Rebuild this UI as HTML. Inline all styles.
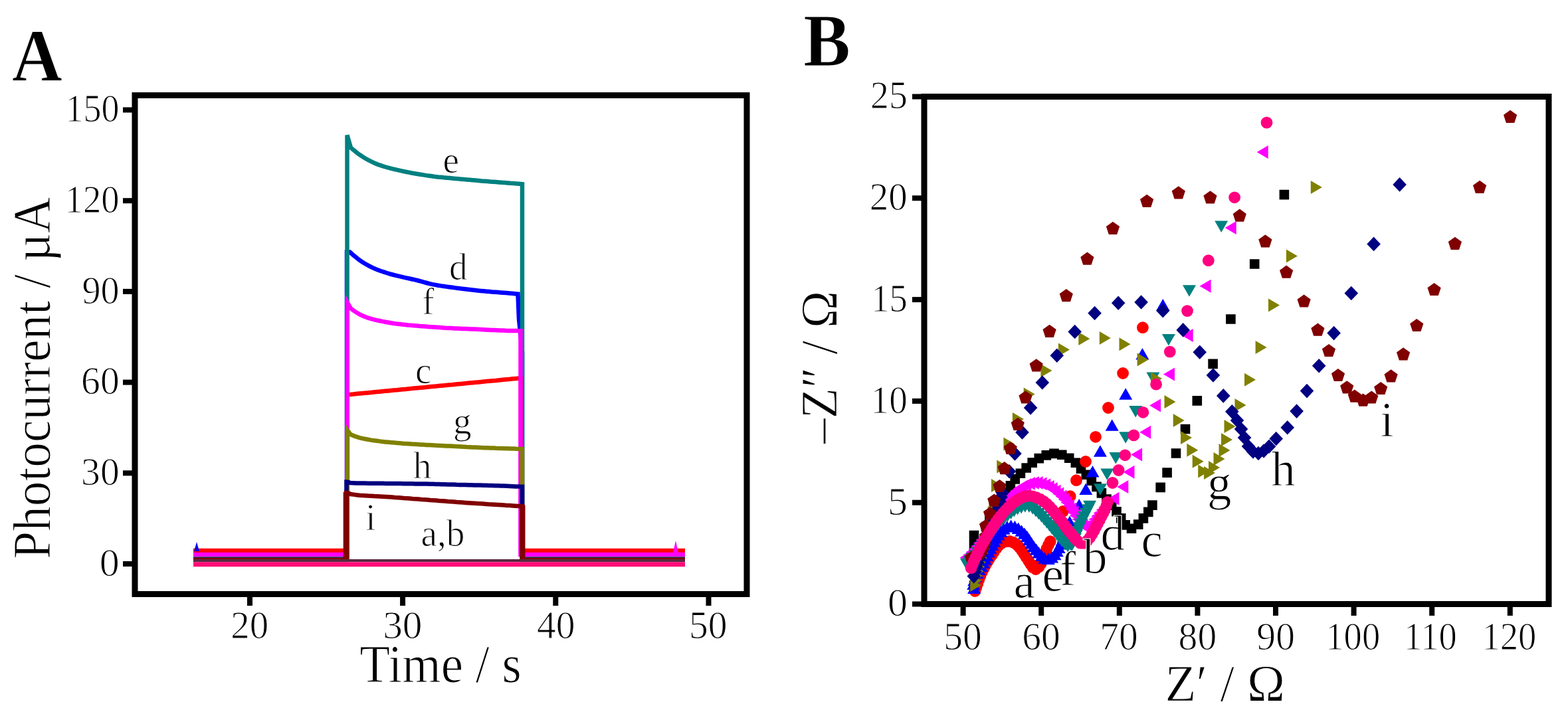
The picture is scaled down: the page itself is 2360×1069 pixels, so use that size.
<!DOCTYPE html>
<html><head><meta charset="utf-8"><title>Figure</title>
<style>html,body{margin:0;padding:0;background:#fff;}body{width:2360px;height:1069px;overflow:hidden;}svg{display:block;filter:blur(0.7px);}.th{stroke:#fff;stroke-width:1.1px;}</style>
</head><body><svg width="2360" height="1069" viewBox="0 0 2360 1069" font-family="'Liberation Serif',serif" fill="#000"><g><path d="M291.0,838.0 L522.0,838.0 L522.0,379.6 L526.7,379.6 L531.0,383.5 L535.3,387.1 L539.5,390.5 L543.8,393.5 L548.1,396.2 L552.4,398.7 L556.7,401.0 L560.9,403.1 L565.2,405.0 L569.5,406.7 L573.8,408.3 L578.1,409.7 L582.3,411.0 L586.6,412.3 L590.9,413.5 L595.2,414.6 L599.5,415.7 L603.7,416.7 L608.0,417.7 L612.3,418.6 L616.6,419.5 L620.9,420.5 L625.1,421.4 L629.4,422.5 L633.7,423.6 L638.0,424.8 L642.3,426.0 L646.5,427.1 L650.8,428.1 L655.1,428.9 L659.4,429.7 L663.6,430.4 L667.9,431.0 L672.2,431.6 L676.5,432.2 L680.8,432.8 L685.0,433.4 L689.3,433.9 L693.6,434.5 L697.9,435.0 L702.2,435.5 L706.4,436.0 L710.7,436.5 L715.0,437.0 L719.3,437.5 L723.6,437.9 L727.8,438.3 L732.1,438.7 L736.4,439.1 L740.7,439.5 L745.0,439.8 L749.2,440.1 L753.5,440.4 L757.8,440.7 L762.1,441.0 L766.4,441.4 L770.6,441.8 L774.9,442.3 L779.2,442.8 L779.5,442.8 L781.0,480.0 L786.0,530.0 L786.0,838.0 L1031.0,838.0" fill="none" stroke="#0000FF" stroke-width="6.5" stroke-linejoin="miter" stroke-linecap="butt" /><path d="M291.0,840.0 L522.5,840.0 L522.5,203.5 L528.0,222.3 L532.4,226.1 L536.7,229.6 L541.1,232.8 L545.5,235.8 L549.9,238.5 L554.2,240.9 L558.6,243.2 L563.0,245.3 L567.4,247.1 L571.7,248.7 L576.1,250.2 L580.5,251.5 L584.8,252.7 L589.2,253.8 L593.6,254.9 L598.0,255.9 L602.3,256.9 L606.7,257.9 L611.1,258.8 L615.5,259.6 L619.8,260.5 L624.2,261.2 L628.6,262.0 L632.9,262.7 L637.3,263.4 L641.7,264.1 L646.1,264.7 L650.4,265.3 L654.8,265.9 L659.2,266.4 L663.6,266.8 L667.9,267.3 L672.3,267.7 L676.7,268.1 L681.1,268.5 L685.4,268.9 L689.8,269.3 L694.2,269.7 L698.5,270.1 L702.9,270.4 L707.3,270.8 L711.7,271.2 L716.0,271.6 L720.4,272.0 L724.8,272.4 L729.2,272.7 L733.5,273.1 L737.9,273.5 L742.3,273.8 L746.6,274.1 L751.0,274.4 L755.4,274.8 L759.8,275.1 L764.1,275.4 L768.5,275.8 L772.9,276.1 L777.3,276.5 L781.6,276.8 L786.0,277.2 L786.0,277.2 L786.0,840.0 L1031.0,840.0" fill="none" stroke="#008080" stroke-width="6.5" stroke-linejoin="miter" stroke-linecap="butt" /><path d="M291.0,829.0 L522.7,829.0 L522.7,594.3 L522.7,594.3 L527.1,593.9 L531.5,593.5 L535.8,593.0 L540.2,592.6 L544.6,592.2 L549.0,591.8 L553.3,591.4 L557.7,590.9 L562.1,590.5 L566.5,590.1 L570.9,589.7 L575.2,589.3 L579.6,588.8 L584.0,588.4 L588.4,588.0 L592.7,587.6 L597.1,587.2 L601.5,586.7 L605.9,586.3 L610.3,585.9 L614.6,585.5 L619.0,585.1 L623.4,584.6 L627.8,584.2 L632.1,583.8 L636.5,583.4 L640.9,583.0 L645.3,582.5 L649.7,582.1 L654.0,581.7 L658.4,581.3 L662.8,580.8 L667.2,580.4 L671.6,580.0 L675.9,579.6 L680.3,579.2 L684.7,578.7 L689.1,578.3 L693.4,577.9 L697.8,577.5 L702.2,577.1 L706.6,576.6 L711.0,576.2 L715.3,575.8 L719.7,575.4 L724.1,575.0 L728.5,574.5 L732.8,574.1 L737.2,573.7 L741.6,573.3 L746.0,572.9 L750.4,572.4 L754.7,572.0 L759.1,571.6 L763.5,571.2 L767.9,570.8 L772.2,570.3 L776.6,569.9 L781.0,569.5 L784.0,569.5 L784.0,829.0 L1031.0,829.0" fill="none" stroke="#FF0000" stroke-width="6.5" stroke-linejoin="miter" stroke-linecap="butt" /><path d="M291.0,835.0 L522.7,835.0 L522.7,455.5 L528.0,464.5 L532.3,467.7 L536.6,470.6 L541.0,473.1 L545.3,475.2 L549.6,477.0 L553.9,478.6 L558.3,479.9 L562.6,481.1 L566.9,482.1 L571.2,483.0 L575.5,483.9 L579.9,484.7 L584.2,485.5 L588.5,486.3 L592.8,487.0 L597.2,487.6 L601.5,488.1 L605.8,488.6 L610.1,489.0 L614.4,489.5 L618.8,489.8 L623.1,490.2 L627.4,490.6 L631.7,491.0 L636.1,491.3 L640.4,491.6 L644.7,491.9 L649.0,492.2 L653.3,492.5 L657.7,492.8 L662.0,493.1 L666.3,493.4 L670.6,493.7 L674.9,493.9 L679.3,494.1 L683.6,494.4 L687.9,494.5 L692.2,494.7 L696.6,494.9 L700.9,495.0 L705.2,495.2 L709.5,495.4 L713.8,495.6 L718.2,495.8 L722.5,496.0 L726.8,496.2 L731.1,496.4 L735.5,496.7 L739.8,496.9 L744.1,497.0 L748.4,497.2 L752.7,497.4 L757.1,497.6 L761.4,497.8 L765.7,497.9 L770.0,498.0 L774.4,498.1 L778.7,498.1 L783.0,498.2 L783.5,498.2 L783.5,835.0 L1031.0,835.0" fill="none" stroke="#FF00FF" stroke-width="6.5" stroke-linejoin="miter" stroke-linecap="butt" /><path d="M291.0,842.0 L523.0,842.0 L523.0,648.0 L528.0,654.4 L532.4,656.1 L536.7,657.7 L541.1,659.1 L545.5,660.1 L549.9,661.0 L554.2,661.8 L558.6,662.6 L563.0,663.2 L567.4,663.8 L571.7,664.4 L576.1,664.9 L580.5,665.4 L584.8,665.8 L589.2,666.2 L593.6,666.6 L598.0,667.0 L602.3,667.3 L606.7,667.7 L611.1,668.0 L615.5,668.3 L619.8,668.6 L624.2,668.8 L628.6,669.1 L632.9,669.4 L637.3,669.6 L641.7,669.9 L646.1,670.1 L650.4,670.3 L654.8,670.6 L659.2,670.8 L663.6,671.0 L667.9,671.2 L672.3,671.4 L676.7,671.6 L681.1,671.8 L685.4,672.1 L689.8,672.3 L694.2,672.5 L698.5,672.7 L702.9,673.0 L707.3,673.2 L711.7,673.4 L716.0,673.6 L720.4,673.8 L724.8,674.0 L729.2,674.2 L733.5,674.3 L737.9,674.5 L742.3,674.6 L746.6,674.8 L751.0,674.9 L755.4,675.0 L759.8,675.2 L764.1,675.3 L768.5,675.5 L772.9,675.6 L777.3,675.8 L781.6,675.9 L786.0,676.1 L786.0,676.1 L786.0,842.0 L1031.0,842.0" fill="none" stroke="#808000" stroke-width="6.5" stroke-linejoin="miter" stroke-linecap="butt" /><path d="M291.0,842.5 L521.5,842.5 L521.5,725.5 L523.0,725.5 L527.4,727.1 L531.9,727.3 L536.3,727.4 L540.8,727.5 L545.2,727.6 L549.6,727.6 L554.1,727.7 L558.5,727.7 L563.0,727.7 L567.4,727.8 L571.8,727.8 L576.3,727.8 L580.7,727.9 L585.2,727.9 L589.6,728.0 L594.1,728.0 L598.5,728.1 L602.9,728.1 L607.4,728.2 L611.8,728.2 L616.3,728.3 L620.7,728.3 L625.1,728.4 L629.6,728.4 L634.0,728.5 L638.5,728.6 L642.9,728.6 L647.3,728.7 L651.8,728.8 L656.2,728.9 L660.7,729.0 L665.1,729.2 L669.5,729.3 L674.0,729.4 L678.4,729.5 L682.9,729.6 L687.3,729.8 L691.7,729.9 L696.2,730.0 L700.6,730.1 L705.1,730.2 L709.5,730.3 L713.9,730.4 L718.4,730.5 L722.8,730.6 L727.3,730.7 L731.7,730.8 L736.2,730.9 L740.6,731.0 L745.0,731.2 L749.5,731.3 L753.9,731.4 L758.4,731.6 L762.8,731.8 L767.2,732.0 L771.7,732.2 L776.1,732.4 L780.6,732.6 L785.0,732.8 L786.0,732.8 L786.0,842.5 L1031.0,842.5" fill="none" stroke="#000080" stroke-width="6.5" stroke-linejoin="miter" stroke-linecap="butt" /><path d="M291.0,843.0 L521.0,843.0 L521.0,742.0 L523.5,742.0 L527.9,744.0 L532.4,744.6 L536.8,745.2 L541.2,745.7 L545.7,746.0 L550.1,746.3 L554.5,746.6 L559.0,746.8 L563.4,747.1 L567.8,747.3 L572.3,747.5 L576.7,747.7 L581.1,748.0 L585.6,748.3 L590.0,748.6 L594.4,749.0 L598.8,749.3 L603.3,749.6 L607.7,750.0 L612.1,750.3 L616.6,750.6 L621.0,751.0 L625.4,751.3 L629.9,751.6 L634.3,752.0 L638.7,752.3 L643.2,752.6 L647.6,753.0 L652.0,753.3 L656.5,753.6 L660.9,754.0 L665.3,754.3 L669.8,754.6 L674.2,755.0 L678.6,755.3 L683.1,755.6 L687.5,756.0 L691.9,756.3 L696.4,756.6 L700.8,756.9 L705.2,757.2 L709.7,757.5 L714.1,757.8 L718.5,758.1 L722.9,758.3 L727.4,758.6 L731.8,758.9 L736.2,759.2 L740.7,759.4 L745.1,759.7 L749.5,760.0 L754.0,760.3 L758.4,760.6 L762.8,760.9 L767.3,761.1 L771.7,761.4 L776.1,761.7 L780.6,762.0 L785.0,762.3 L786.5,762.3 L786.5,843.0 L1031.0,843.0" fill="none" stroke="#800000" stroke-width="6.5" stroke-linejoin="miter" stroke-linecap="butt" /><path d="M520.9,741.0 L520.9,846.0" fill="none" stroke="#800000" stroke-width="8.4" stroke-linejoin="miter" stroke-linecap="butt" /><path d="M786.5,761.0 L786.5,846.0" fill="none" stroke="#800000" stroke-width="8" stroke-linejoin="miter" stroke-linecap="butt" /><path d="M291.0,844.0 L1031.0,844.0" fill="none" stroke="#5a2a40" stroke-width="4" stroke-linejoin="miter" stroke-linecap="butt" /><path d="M291.0,849.8 L1031.0,849.8" fill="none" stroke="#FF0A78" stroke-width="7" stroke-linejoin="miter" stroke-linecap="butt" /><path d="M292,830 L296,816 L300,830 Z" fill="#0000FF"/><path d="M1013,832 L1017,814 L1021,832 Z" fill="#FF00FF"/></g>
<rect x="203" y="143.5" width="921" height="751" fill="none" stroke="#000" stroke-width="9"/>
<line x1="185" y1="849.0" x2="203" y2="849.0" stroke="#000" stroke-width="8"/><text transform="translate(149.79,866.80) scale(1.0000,1)" font-size="60" class="th">0</text><line x1="185" y1="712.3" x2="203" y2="712.3" stroke="#000" stroke-width="8"/><text transform="translate(122.09,730.10) scale(0.9600,1)" font-size="60" class="th">30</text><line x1="185" y1="575.6" x2="203" y2="575.6" stroke="#000" stroke-width="8"/><text transform="translate(122.09,593.40) scale(0.9600,1)" font-size="60" class="th">60</text><line x1="185" y1="438.9" x2="203" y2="438.9" stroke="#000" stroke-width="8"/><text transform="translate(123.54,456.70) scale(0.9350,1)" font-size="60" class="th">90</text><line x1="185" y1="302.2" x2="203" y2="302.2" stroke="#000" stroke-width="8"/><text transform="translate(97.68,320.00) scale(0.9100,1)" font-size="60" class="th">120</text><line x1="185" y1="165.5" x2="203" y2="165.5" stroke="#000" stroke-width="8"/><text transform="translate(98.56,183.30) scale(0.9000,1)" font-size="60" class="th">150</text><line x1="376.0" y1="894" x2="376.0" y2="912" stroke="#000" stroke-width="8"/><text transform="translate(347.33,961.20) scale(0.9500,1)" font-size="60" class="th">20</text><line x1="606.1" y1="894" x2="606.1" y2="912" stroke="#000" stroke-width="8"/><text transform="translate(576.16,961.20) scale(0.9900,1)" font-size="60" class="th">30</text><line x1="836.3" y1="894" x2="836.3" y2="912" stroke="#000" stroke-width="8"/><text transform="translate(808.03,961.20) scale(0.9600,1)" font-size="60" class="th">40</text><line x1="1066.5" y1="894" x2="1066.5" y2="912" stroke="#000" stroke-width="8"/><text transform="translate(1037.07,961.20) scale(0.9600,1)" font-size="60" class="th">50</text>
<text transform="translate(541.24,1026.90) scale(0.9456,1)" font-size="79.4" class="th">Time / s</text>
<text transform="translate(74.80,841.67) rotate(-90) scale(0.9411,1)" font-size="80" class="th">Photocurrent / µA</text>
<text transform="translate(17.98,122.00) scale(0.9371,1)" font-size="112" font-weight="bold" class="th">A</text>
<text transform="translate(666.51,259.50) scale(0.9700,1)" font-size="57" class="th">e</text>
<text transform="translate(676.02,421.00) scale(0.9700,1)" font-size="57" class="th">d</text>
<text transform="translate(635.14,472.50) scale(0.9700,1)" font-size="57" class="th">f</text>
<text transform="translate(625.03,577.30) scale(0.9700,1)" font-size="57" class="th">c</text>
<text transform="translate(682.02,653.00) scale(0.9700,1)" font-size="57" class="th">g</text>
<text transform="translate(621.67,719.50) scale(0.9700,1)" font-size="57" class="th">h</text>
<text transform="translate(550.17,798.30) scale(0.9700,1)" font-size="57" class="th">i</text>
<text transform="translate(633.38,821.90) scale(0.9700,1)" font-size="57" class="th">a,b</text>
<text transform="translate(1209.24,99.00) scale(0.9466,1)" font-size="112" font-weight="bold" class="th">B</text>
<rect x="1391" y="145.5" width="940" height="764" fill="none" stroke="#000" stroke-width="9"/>
<line x1="1373" y1="909.5" x2="1391" y2="909.5" stroke="#000" stroke-width="8"/><text transform="translate(1335.99,927.30) scale(1.0000,1)" font-size="60" class="th">0</text><line x1="1373" y1="756.7" x2="1391" y2="756.7" stroke="#000" stroke-width="8"/><text transform="translate(1336.04,774.50) scale(1.0000,1)" font-size="60" class="th">5</text><line x1="1373" y1="603.9" x2="1391" y2="603.9" stroke="#000" stroke-width="8"/><text transform="translate(1310.60,621.70) scale(0.9200,1)" font-size="60" class="th">10</text><line x1="1373" y1="451.1" x2="1391" y2="451.1" stroke="#000" stroke-width="8"/><text transform="translate(1311.23,468.90) scale(0.9100,1)" font-size="60" class="th">15</text><line x1="1373" y1="298.3" x2="1391" y2="298.3" stroke="#000" stroke-width="8"/><text transform="translate(1308.87,316.10) scale(0.9500,1)" font-size="60" class="th">20</text><line x1="1373" y1="145.5" x2="1391" y2="145.5" stroke="#000" stroke-width="8"/><text transform="translate(1310.08,163.30) scale(0.9300,1)" font-size="60" class="th">25</text><line x1="1449.6" y1="909" x2="1449.6" y2="927" stroke="#000" stroke-width="8"/><text transform="translate(1420.22,977.60) scale(0.9600,1)" font-size="60" class="th">50</text><line x1="1567.2" y1="909" x2="1567.2" y2="927" stroke="#000" stroke-width="8"/><text transform="translate(1538.26,977.60) scale(0.9600,1)" font-size="60" class="th">60</text><line x1="1684.8" y1="909" x2="1684.8" y2="927" stroke="#000" stroke-width="8"/><text transform="translate(1655.20,977.60) scale(0.9600,1)" font-size="60" class="th">70</text><line x1="1802.4" y1="909" x2="1802.4" y2="927" stroke="#000" stroke-width="8"/><text transform="translate(1773.60,977.60) scale(0.9600,1)" font-size="60" class="th">80</text><line x1="1920.0" y1="909" x2="1920.0" y2="927" stroke="#000" stroke-width="8"/><text transform="translate(1891.37,977.60) scale(0.9600,1)" font-size="60" class="th">90</text><line x1="2037.6" y1="909" x2="2037.6" y2="927" stroke="#000" stroke-width="8"/><text transform="translate(1995.29,977.60) scale(0.9100,1)" font-size="60" class="th">100</text><line x1="2155.2" y1="909" x2="2155.2" y2="927" stroke="#000" stroke-width="8"/><text transform="translate(2112.89,977.60) scale(0.9100,1)" font-size="60" class="th">110</text><line x1="2272.8" y1="909" x2="2272.8" y2="927" stroke="#000" stroke-width="8"/><text transform="translate(2230.49,977.60) scale(0.9100,1)" font-size="60" class="th">120</text>
<text transform="translate(1753.53,1054.50) scale(0.9880,1)" font-size="77.7" class="th">Z′ / Ω</text>
<text transform="translate(1259.40,667.98) rotate(-90) scale(0.9620,1)" font-size="78.5" class="th">–Z″ / Ω</text>
<g><path fill="#000000" d="M1458.7,817.2h14.6v14.6h-14.6ZM1458.7,807.7h14.6v14.6h-14.6ZM1458.7,798.7h14.6v14.6h-14.6ZM1476.7,785.7h14.6v14.6h-14.6ZM1482.1,775.0h14.6v14.6h-14.6ZM1487.7,764.4h14.6v14.6h-14.6ZM1494.0,754.2h14.6v14.6h-14.6ZM1500.7,744.2h14.6v14.6h-14.6ZM1507.2,734.1h14.6v14.6h-14.6ZM1513.6,724.0h14.6v14.6h-14.6ZM1520.4,714.1h14.6v14.6h-14.6ZM1528.6,705.4h14.6v14.6h-14.6ZM1537.4,697.2h14.6v14.6h-14.6ZM1546.4,689.3h14.6v14.6h-14.6ZM1556.5,682.8h14.6v14.6h-14.6ZM1567.5,678.1h14.6v14.6h-14.6ZM1579.2,675.6h14.6v14.6h-14.6ZM1591.0,677.5h14.6v14.6h-14.6ZM1601.9,682.4h14.6v14.6h-14.6ZM1611.6,689.5h14.6v14.6h-14.6ZM1619.7,698.4h14.6v14.6h-14.6ZM1627.5,707.4h14.6v14.6h-14.6ZM1635.5,716.4h14.6v14.6h-14.6ZM1643.2,725.6h14.6v14.6h-14.6ZM1650.6,735.1h14.6v14.6h-14.6ZM1658.2,744.3h14.6v14.6h-14.6ZM1665.9,753.5h14.6v14.6h-14.6ZM1673.2,763.0h14.6v14.6h-14.6ZM1679.9,773.0h14.6v14.6h-14.6ZM1686.4,783.1h14.6v14.6h-14.6ZM1695.7,788.5h14.6v14.6h-14.6ZM1705.9,782.3h14.6v14.6h-14.6ZM1713.6,773.1h14.6v14.6h-14.6ZM1721.0,763.6h14.6v14.6h-14.6ZM1727.1,753.3h14.6v14.6h-14.6ZM1739.4,726.6h14.6v14.6h-14.6ZM1749.3,704.3h14.6v14.6h-14.6ZM1762.7,675.2h14.6v14.6h-14.6ZM1776.7,638.7h14.6v14.6h-14.6ZM1794.5,596.1h14.6v14.6h-14.6ZM1818.3,540.6h14.6v14.6h-14.6ZM1845.1,473.2h14.6v14.6h-14.6ZM1880.9,390.2h14.6v14.6h-14.6ZM1925.6,285.8h14.6v14.6h-14.6Z"/><path fill="#FF0000" d="M1458.6,890.0a8.9,8.9 0 1,0 17.8,0a8.9,8.9 0 1,0 -17.8,0ZM1460.5,884.3a8.9,8.9 0 1,0 17.8,0a8.9,8.9 0 1,0 -17.8,0ZM1462.5,878.6a8.9,8.9 0 1,0 17.8,0a8.9,8.9 0 1,0 -17.8,0ZM1464.4,873.0a8.9,8.9 0 1,0 17.8,0a8.9,8.9 0 1,0 -17.8,0ZM1466.5,867.4a8.9,8.9 0 1,0 17.8,0a8.9,8.9 0 1,0 -17.8,0ZM1468.9,861.8a8.9,8.9 0 1,0 17.8,0a8.9,8.9 0 1,0 -17.8,0ZM1471.5,856.5a8.9,8.9 0 1,0 17.8,0a8.9,8.9 0 1,0 -17.8,0ZM1474.4,851.1a8.9,8.9 0 1,0 17.8,0a8.9,8.9 0 1,0 -17.8,0ZM1477.3,845.9a8.9,8.9 0 1,0 17.8,0a8.9,8.9 0 1,0 -17.8,0ZM1480.5,840.8a8.9,8.9 0 1,0 17.8,0a8.9,8.9 0 1,0 -17.8,0ZM1483.9,835.9a8.9,8.9 0 1,0 17.8,0a8.9,8.9 0 1,0 -17.8,0ZM1487.2,830.9a8.9,8.9 0 1,0 17.8,0a8.9,8.9 0 1,0 -17.8,0ZM1490.6,825.9a8.9,8.9 0 1,0 17.8,0a8.9,8.9 0 1,0 -17.8,0ZM1494.3,821.3a8.9,8.9 0 1,0 17.8,0a8.9,8.9 0 1,0 -17.8,0ZM1499.1,817.6a8.9,8.9 0 1,0 17.8,0a8.9,8.9 0 1,0 -17.8,0ZM1504.6,815.4a8.9,8.9 0 1,0 17.8,0a8.9,8.9 0 1,0 -17.8,0ZM1510.6,815.0a8.9,8.9 0 1,0 17.8,0a8.9,8.9 0 1,0 -17.8,0ZM1516.3,816.7a8.9,8.9 0 1,0 17.8,0a8.9,8.9 0 1,0 -17.8,0ZM1521.3,819.9a8.9,8.9 0 1,0 17.8,0a8.9,8.9 0 1,0 -17.8,0ZM1525.5,824.2a8.9,8.9 0 1,0 17.8,0a8.9,8.9 0 1,0 -17.8,0ZM1529.1,829.0a8.9,8.9 0 1,0 17.8,0a8.9,8.9 0 1,0 -17.8,0ZM1532.4,834.0a8.9,8.9 0 1,0 17.8,0a8.9,8.9 0 1,0 -17.8,0ZM1535.6,839.1a8.9,8.9 0 1,0 17.8,0a8.9,8.9 0 1,0 -17.8,0ZM1538.9,844.1a8.9,8.9 0 1,0 17.8,0a8.9,8.9 0 1,0 -17.8,0ZM1542.1,849.1a8.9,8.9 0 1,0 17.8,0a8.9,8.9 0 1,0 -17.8,0ZM1545.5,854.1a8.9,8.9 0 1,0 17.8,0a8.9,8.9 0 1,0 -17.8,0ZM1550.0,857.0a8.9,8.9 0 1,0 17.8,0a8.9,8.9 0 1,0 -17.8,0ZM1554.8,853.5a8.9,8.9 0 1,0 17.8,0a8.9,8.9 0 1,0 -17.8,0ZM1557.9,848.4a8.9,8.9 0 1,0 17.8,0a8.9,8.9 0 1,0 -17.8,0ZM1560.3,842.8a8.9,8.9 0 1,0 17.8,0a8.9,8.9 0 1,0 -17.8,0ZM1562.3,837.2a8.9,8.9 0 1,0 17.8,0a8.9,8.9 0 1,0 -17.8,0ZM1564.4,831.6a8.9,8.9 0 1,0 17.8,0a8.9,8.9 0 1,0 -17.8,0ZM1566.6,826.0a8.9,8.9 0 1,0 17.8,0a8.9,8.9 0 1,0 -17.8,0ZM1569.1,820.5a8.9,8.9 0 1,0 17.8,0a8.9,8.9 0 1,0 -17.8,0ZM1571.8,815.2a8.9,8.9 0 1,0 17.8,0a8.9,8.9 0 1,0 -17.8,0ZM1582.1,790.0a8.9,8.9 0 1,0 17.8,0a8.9,8.9 0 1,0 -17.8,0ZM1591.1,770.0a8.9,8.9 0 1,0 17.8,0a8.9,8.9 0 1,0 -17.8,0ZM1601.8,747.2a8.9,8.9 0 1,0 17.8,0a8.9,8.9 0 1,0 -17.8,0ZM1611.1,723.2a8.9,8.9 0 1,0 17.8,0a8.9,8.9 0 1,0 -17.8,0ZM1625.1,695.0a8.9,8.9 0 1,0 17.8,0a8.9,8.9 0 1,0 -17.8,0ZM1640.1,657.8a8.9,8.9 0 1,0 17.8,0a8.9,8.9 0 1,0 -17.8,0ZM1659.1,614.0a8.9,8.9 0 1,0 17.8,0a8.9,8.9 0 1,0 -17.8,0ZM1681.2,562.0a8.9,8.9 0 1,0 17.8,0a8.9,8.9 0 1,0 -17.8,0ZM1711.0,493.2a8.9,8.9 0 1,0 17.8,0a8.9,8.9 0 1,0 -17.8,0Z"/><path fill="#0000FF" d="M1466.0,876.5L1476.0,894.0L1456.0,894.0ZM1465.2,870.6L1475.2,888.1L1455.2,888.1ZM1466.2,864.7L1476.2,882.2L1456.2,882.2ZM1468.1,859.0L1478.1,876.5L1458.1,876.5ZM1470.5,853.5L1480.5,871.0L1460.5,871.0ZM1473.6,848.4L1483.6,865.9L1463.6,865.9ZM1477.1,843.5L1487.1,861.0L1467.1,861.0ZM1480.1,838.3L1490.1,855.8L1470.1,855.8ZM1482.8,832.9L1492.8,850.4L1472.8,850.4ZM1485.4,827.5L1495.4,845.0L1475.4,845.0ZM1488.0,822.1L1498.0,839.6L1478.0,839.6ZM1490.6,816.7L1500.6,834.2L1480.6,834.2ZM1493.4,811.4L1503.4,828.9L1483.4,828.9ZM1496.3,806.2L1506.3,823.7L1486.3,823.7ZM1499.3,801.0L1509.3,818.5L1489.3,818.5ZM1502.6,795.9L1512.6,813.4L1492.6,813.4ZM1506.3,791.2L1516.3,808.7L1496.3,808.7ZM1510.7,787.2L1520.7,804.7L1500.7,804.7ZM1515.8,784.0L1525.8,801.5L1505.8,801.5ZM1521.6,782.6L1531.6,800.1L1511.6,800.1ZM1527.4,783.7L1537.4,801.2L1517.4,801.2ZM1532.7,786.5L1542.7,804.0L1522.7,804.0ZM1537.5,790.2L1547.5,807.7L1527.5,807.7ZM1541.9,794.3L1551.9,811.8L1531.9,811.8ZM1545.8,798.8L1555.8,816.3L1535.8,816.3ZM1549.2,803.7L1559.2,821.2L1539.2,821.2ZM1552.5,808.7L1562.5,826.2L1542.5,826.2ZM1555.9,813.7L1565.9,831.2L1545.9,831.2ZM1559.7,818.3L1569.7,835.8L1549.7,835.8ZM1563.5,822.9L1573.5,840.4L1553.5,840.4ZM1567.6,827.4L1577.6,844.9L1557.6,844.9ZM1572.2,831.2L1582.2,848.7L1562.2,848.7ZM1577.9,832.6L1587.9,850.1L1567.9,850.1ZM1583.2,829.9L1593.2,847.4L1573.2,847.4ZM1587.5,825.7L1597.5,843.2L1577.5,843.2ZM1590.8,820.7L1600.8,838.2L1580.8,838.2ZM1593.6,815.4L1603.6,832.9L1583.6,832.9ZM1596.3,810.1L1606.3,827.6L1586.3,827.6ZM1598.6,804.6L1608.6,822.1L1588.6,822.1ZM1600.8,799.0L1610.8,816.5L1590.8,816.5ZM1603.0,793.4L1613.0,810.9L1593.0,810.9ZM1605.4,787.9L1615.4,805.4L1595.4,805.4ZM1607.7,782.3L1617.7,799.8L1597.7,799.8ZM1610.0,776.8L1620.0,794.3L1600.0,794.3ZM1624.2,751.1L1634.2,768.6L1614.2,768.6ZM1634.3,727.5L1644.3,745.0L1624.3,745.0ZM1644.5,701.0L1654.5,718.5L1634.5,718.5ZM1655.9,670.2L1665.9,687.7L1645.9,687.7ZM1673.7,631.3L1683.7,648.8L1663.7,648.8ZM1694.2,584.2L1704.2,601.7L1684.2,601.7ZM1719.4,523.9L1729.4,541.4L1709.4,541.4ZM1750.3,450.0L1760.3,467.5L1740.3,467.5Z"/><path fill="#FF00FF" d="M1444.6,839.6L1461.6,829.6L1461.6,849.6ZM1449.1,835.7L1466.1,825.7L1466.1,845.7ZM1453.5,831.6L1470.5,821.6L1470.5,841.6ZM1457.5,827.1L1474.5,817.1L1474.5,837.1ZM1461.3,822.4L1478.3,812.4L1478.3,832.4ZM1464.9,817.7L1481.9,807.7L1481.9,827.7ZM1468.6,812.9L1485.6,802.9L1485.6,822.9ZM1472.2,808.1L1489.2,798.1L1489.2,818.1ZM1475.7,803.2L1492.7,793.2L1492.7,813.2ZM1479.2,798.4L1496.2,788.4L1496.2,808.4ZM1482.6,793.5L1499.6,783.5L1499.6,803.5ZM1486.1,788.5L1503.1,778.5L1503.1,798.5ZM1489.3,783.5L1506.3,773.5L1506.3,793.5ZM1492.4,778.3L1509.4,768.3L1509.4,788.3ZM1495.3,773.1L1512.3,763.1L1512.3,783.1ZM1498.3,767.9L1515.3,757.9L1515.3,777.9ZM1501.4,762.8L1518.4,752.8L1518.4,772.8ZM1504.6,757.7L1521.6,747.7L1521.6,767.7ZM1507.8,752.6L1524.8,742.6L1524.8,762.6ZM1511.4,747.8L1528.4,737.8L1528.4,757.8ZM1515.5,743.4L1532.5,733.4L1532.5,753.4ZM1519.9,739.4L1536.9,729.4L1536.9,749.4ZM1524.7,735.7L1541.7,725.7L1541.7,745.7ZM1529.8,732.6L1546.8,722.6L1546.8,742.6ZM1535.2,730.0L1552.2,720.0L1552.2,740.0ZM1540.9,728.0L1557.9,718.0L1557.9,738.0ZM1546.8,726.9L1563.8,716.9L1563.8,736.9ZM1552.7,727.0L1569.7,717.0L1569.7,737.0ZM1558.6,728.2L1575.6,718.2L1575.6,738.2ZM1564.3,730.2L1581.3,720.2L1581.3,740.2ZM1569.6,732.9L1586.6,722.9L1586.6,742.9ZM1574.7,736.1L1591.7,726.1L1591.7,746.1ZM1579.6,739.6L1596.6,729.6L1596.6,749.6ZM1584.2,743.4L1601.2,733.4L1601.2,753.4ZM1588.6,747.5L1605.6,737.5L1605.6,757.5ZM1592.7,751.9L1609.7,741.9L1609.7,761.9ZM1596.4,756.6L1613.4,746.6L1613.4,766.6ZM1599.9,761.5L1616.9,751.5L1616.9,771.5ZM1603.3,766.4L1620.3,756.4L1620.3,776.4ZM1606.6,771.4L1623.6,761.4L1623.6,781.4ZM1609.8,776.5L1626.8,766.5L1626.8,786.5ZM1613.2,781.5L1630.2,771.5L1630.2,791.5ZM1616.7,786.3L1633.7,776.3L1633.7,796.3ZM1620.4,791.1L1637.4,781.1L1637.4,801.1ZM1625.4,794.0L1642.4,784.0L1642.4,804.0ZM1630.4,791.0L1647.4,781.0L1647.4,801.0ZM1634.5,786.6L1651.5,776.6L1651.5,796.6ZM1638.5,782.1L1655.5,772.1L1655.5,792.1ZM1642.1,777.3L1659.1,767.3L1659.1,787.3ZM1645.6,772.4L1662.6,762.4L1662.6,782.4ZM1649.6,767.9L1666.6,757.9L1666.6,777.9ZM1653.6,763.5L1670.6,753.5L1670.6,773.5ZM1667.5,750.8L1684.5,740.8L1684.5,760.8ZM1681.3,733.1L1698.3,723.1L1698.3,743.1ZM1690.5,710.8L1707.5,700.8L1707.5,720.8ZM1702.1,684.4L1719.1,674.4L1719.1,694.4ZM1715.2,650.7L1732.2,640.7L1732.2,660.7ZM1730.1,610.5L1747.1,600.5L1747.1,620.5ZM1751.0,563.5L1768.0,553.5L1768.0,573.5ZM1778.7,505.1L1795.7,495.1L1795.7,515.1ZM1805.6,430.7L1822.6,420.7L1822.6,440.7ZM1843.7,342.9L1860.7,332.9L1860.7,352.9ZM1891.7,228.9L1908.7,218.9L1908.7,238.9Z"/><path fill="#008080" d="M1445.0,841.0L1465.0,841.0L1455.0,858.5ZM1449.3,836.8L1469.3,836.8L1459.3,854.3ZM1453.5,832.6L1473.5,832.6L1463.5,850.1ZM1457.7,828.2L1477.7,828.2L1467.7,845.7ZM1461.7,823.7L1481.7,823.7L1471.7,841.2ZM1465.5,819.2L1485.5,819.2L1475.5,836.7ZM1469.2,814.4L1489.2,814.4L1479.2,831.9ZM1472.5,809.4L1492.5,809.4L1482.5,826.9ZM1475.7,804.3L1495.7,804.3L1485.7,821.8ZM1479.1,799.3L1499.1,799.3L1489.1,816.8ZM1482.5,794.4L1502.5,794.4L1492.5,811.9ZM1485.9,789.5L1505.9,789.5L1495.9,807.0ZM1489.4,784.6L1509.4,784.6L1499.4,802.1ZM1493.2,780.0L1513.2,780.0L1503.2,797.5ZM1497.4,775.7L1517.4,775.7L1507.4,793.2ZM1501.9,771.7L1521.9,771.7L1511.9,789.2ZM1506.6,768.0L1526.6,768.0L1516.6,785.5ZM1511.5,764.5L1531.5,764.5L1521.5,782.0ZM1516.4,761.1L1536.4,761.1L1526.4,778.6ZM1521.6,758.1L1541.6,758.1L1531.6,775.6ZM1527.2,755.9L1547.2,755.9L1537.2,773.4ZM1532.9,754.3L1552.9,754.3L1542.9,771.8ZM1538.9,754.4L1558.9,754.4L1548.9,771.9ZM1544.2,757.2L1564.2,757.2L1554.2,774.7ZM1548.8,761.0L1568.8,761.0L1558.8,778.5ZM1553.3,765.0L1573.3,765.0L1563.3,782.5ZM1557.5,769.3L1577.5,769.3L1567.5,786.8ZM1561.5,773.7L1581.5,773.7L1571.5,791.2ZM1565.5,778.2L1585.5,778.2L1575.5,795.7ZM1569.4,782.8L1589.4,782.8L1579.4,800.3ZM1573.2,787.5L1593.2,787.5L1583.2,805.0ZM1577.0,792.1L1597.0,792.1L1587.0,809.6ZM1580.8,796.7L1600.8,796.7L1590.8,814.2ZM1584.5,801.5L1604.5,801.5L1594.5,819.0ZM1588.2,806.2L1608.2,806.2L1598.2,823.7ZM1592.5,810.3L1612.5,810.3L1602.5,827.8ZM1597.2,814.0L1617.2,814.0L1607.2,831.5ZM1602.6,813.8L1622.6,813.8L1612.6,831.3ZM1605.5,808.5L1625.5,808.5L1615.5,826.0ZM1607.9,803.0L1627.9,803.0L1617.9,820.5ZM1610.0,797.4L1630.0,797.4L1620.0,814.9ZM1612.1,791.8L1632.1,791.8L1622.1,809.3ZM1614.4,786.3L1634.4,786.3L1624.4,803.8ZM1616.9,780.8L1636.9,780.8L1626.9,798.3ZM1619.4,775.3L1639.4,775.3L1629.4,792.8ZM1622.0,769.9L1642.0,769.9L1632.0,787.4ZM1624.7,764.5L1644.7,764.5L1634.7,782.0ZM1627.4,759.2L1647.4,759.2L1637.4,776.7ZM1630.1,753.8L1650.1,753.8L1640.1,771.3ZM1646.0,728.3L1666.0,728.3L1656.0,745.8ZM1656.3,705.5L1676.3,705.5L1666.3,723.0ZM1669.3,681.1L1689.3,681.1L1679.3,698.6ZM1684.2,650.2L1704.2,650.2L1694.2,667.7ZM1699.2,610.9L1719.2,610.9L1709.2,628.4ZM1725.4,560.4L1745.4,560.4L1735.4,577.9ZM1748.9,502.9L1768.9,502.9L1758.9,520.4ZM1780.0,429.3L1800.0,429.3L1790.0,446.8ZM1828.2,332.6L1848.2,332.6L1838.2,350.1Z"/><path fill="#808000" d="M1477.2,881.0L1460.2,871.0L1460.2,891.0ZM1478.0,874.0L1461.0,864.0L1461.0,884.0ZM1479.2,867.1L1462.2,857.1L1462.2,877.1ZM1480.8,860.3L1463.8,850.3L1463.8,870.3ZM1482.5,853.6L1465.5,843.6L1465.5,863.6ZM1484.3,846.8L1467.3,836.8L1467.3,856.8ZM1486.1,840.0L1469.1,830.0L1469.1,850.0ZM1488.0,833.3L1471.0,823.3L1471.0,843.3ZM1489.9,826.5L1472.9,816.5L1472.9,836.5ZM1491.7,819.8L1474.7,809.8L1474.7,829.8ZM1493.6,813.0L1476.6,803.0L1476.6,823.0ZM1495.4,806.3L1478.4,796.3L1478.4,816.3ZM1497.2,799.5L1480.2,789.5L1480.2,809.5ZM1498.9,792.7L1481.9,782.7L1481.9,802.7ZM1500.6,785.9L1483.6,775.9L1483.6,795.9ZM1502.2,779.1L1485.2,769.1L1485.2,789.1ZM1503.7,772.3L1486.7,762.3L1486.7,782.3ZM1505.2,765.4L1488.2,755.4L1488.2,775.4ZM1506.7,758.6L1489.7,748.6L1489.7,768.6ZM1509.0,731.0L1492.0,721.0L1492.0,741.0ZM1517.3,702.5L1500.3,692.5L1500.3,712.5ZM1527.4,668.5L1510.4,658.5L1510.4,678.5ZM1540.9,631.0L1523.9,621.0L1523.9,641.0ZM1557.7,593.5L1540.7,583.5L1540.7,603.5ZM1583.4,558.0L1566.4,548.0L1566.4,568.0ZM1609.9,526.4L1592.9,516.4L1592.9,536.4ZM1640.3,510.0L1623.3,500.0L1623.3,520.0ZM1671.8,508.9L1654.8,498.9L1654.8,518.9ZM1701.5,518.2L1684.5,508.2L1684.5,528.2ZM1728.6,541.5L1711.6,531.5L1711.6,551.5ZM1749.0,570.0L1732.0,560.0L1732.0,580.0ZM1769.5,605.0L1752.5,595.0L1752.5,615.0ZM1782.7,633.0L1765.7,623.0L1765.7,643.0ZM1794.0,659.1L1777.0,649.1L1777.0,669.1ZM1803.3,677.8L1786.3,667.8L1786.3,687.8ZM1811.7,694.7L1794.7,684.7L1794.7,704.7ZM1820.2,709.6L1803.2,699.6L1803.2,719.6ZM1829.0,712.0L1812.0,702.0L1812.0,722.0ZM1836.0,704.0L1819.0,694.0L1819.0,714.0ZM1843.5,691.0L1826.5,681.0L1826.5,701.0ZM1851.5,678.0L1834.5,668.0L1834.5,688.0ZM1855.0,662.0L1838.0,652.0L1838.0,672.0ZM1859.5,642.0L1842.5,632.0L1842.5,652.0ZM1875.5,610.0L1858.5,600.0L1858.5,620.0ZM1890.0,571.7L1873.0,561.7L1873.0,581.7ZM1906.6,523.1L1889.6,513.1L1889.6,533.1ZM1926.0,459.5L1909.0,449.5L1909.0,469.5ZM1952.9,385.4L1935.9,375.4L1935.9,395.4ZM1989.8,282.1L1972.8,272.1L1972.8,292.1Z"/><path fill="#000080" d="M1465.8,856.8L1476.1,867.6L1465.8,878.4L1455.5,867.6ZM1467.5,850.0L1477.8,860.8L1467.5,871.6L1457.2,860.8ZM1469.4,843.3L1479.7,854.1L1469.4,864.9L1459.1,854.1ZM1471.5,836.6L1481.8,847.4L1471.5,858.2L1461.2,847.4ZM1473.8,830.0L1484.1,840.8L1473.8,851.6L1463.5,840.8ZM1476.2,823.4L1486.5,834.2L1476.2,845.0L1465.9,834.2ZM1478.6,816.8L1488.9,827.6L1478.6,838.4L1468.3,827.6ZM1480.9,810.2L1491.2,821.0L1480.9,831.8L1470.6,821.0ZM1483.3,803.7L1493.6,814.5L1483.3,825.3L1473.0,814.5ZM1485.8,797.1L1496.1,807.9L1485.8,818.7L1475.5,807.9ZM1488.4,790.6L1498.7,801.4L1488.4,812.2L1478.1,801.4ZM1491.0,784.1L1501.3,794.9L1491.0,805.7L1480.7,794.9ZM1493.5,777.6L1503.8,788.4L1493.5,799.2L1483.2,788.4ZM1495.8,771.0L1506.1,781.8L1495.8,792.6L1485.5,781.8ZM1498.1,764.3L1508.4,775.1L1498.1,785.9L1487.8,775.1ZM1500.2,757.7L1510.5,768.5L1500.2,779.3L1489.9,768.5ZM1502.4,751.0L1512.7,761.8L1502.4,772.6L1492.1,761.8ZM1504.5,744.3L1514.8,755.1L1504.5,765.9L1494.2,755.1ZM1506.5,737.6L1516.8,748.4L1506.5,759.2L1496.2,748.4ZM1508.6,730.9L1518.9,741.7L1508.6,752.5L1498.3,741.7ZM1519.1,699.0L1529.4,709.8L1519.1,720.6L1508.8,709.8ZM1527.5,672.1L1537.8,682.9L1527.5,693.7L1517.2,682.9ZM1538.5,640.1L1548.8,650.9L1538.5,661.7L1528.2,650.9ZM1551.1,603.1L1561.4,613.9L1551.1,624.7L1540.8,613.9ZM1568.8,565.2L1579.1,576.0L1568.8,586.8L1558.5,576.0ZM1590.8,524.5L1601.1,535.3L1590.8,546.1L1580.5,535.3ZM1617.7,488.7L1628.0,499.5L1617.7,510.3L1607.4,499.5ZM1647.6,460.7L1657.9,471.5L1647.6,482.3L1637.3,471.5ZM1683.2,445.5L1693.5,456.3L1683.2,467.1L1672.9,456.3ZM1717.6,444.2L1727.9,455.0L1717.6,465.8L1707.3,455.0ZM1750.3,456.9L1760.6,467.7L1750.3,478.5L1740.0,467.7ZM1780.7,486.1L1791.0,496.9L1780.7,507.7L1770.4,496.9ZM1805.7,519.5L1816.0,530.3L1805.7,541.1L1795.4,530.3ZM1825.9,554.2L1836.2,565.0L1825.9,575.8L1815.6,565.0ZM1841.3,585.1L1851.6,595.9L1841.3,606.7L1831.0,595.9ZM1854.3,609.0L1864.6,619.8L1854.3,630.6L1844.0,619.8ZM1862.0,622.2L1872.3,633.0L1862.0,643.8L1851.7,633.0ZM1868.0,635.2L1878.3,646.0L1868.0,656.8L1857.7,646.0ZM1873.0,648.2L1883.3,659.0L1873.0,669.8L1862.7,659.0ZM1879.0,661.2L1889.3,672.0L1879.0,682.8L1868.7,672.0ZM1886.0,669.2L1896.3,680.0L1886.0,690.8L1875.7,680.0ZM1894.0,671.7L1904.3,682.5L1894.0,693.3L1883.7,682.5ZM1902.0,668.2L1912.3,679.0L1902.0,689.8L1891.7,679.0ZM1910.1,661.4L1920.4,672.2L1910.1,683.0L1899.8,672.2ZM1920.7,649.7L1931.0,660.5L1920.7,671.3L1910.4,660.5ZM1937.7,632.9L1948.0,643.7L1937.7,654.5L1927.4,643.7ZM1951.6,608.3L1961.9,619.1L1951.6,629.9L1941.3,619.1ZM1967.0,577.8L1977.3,588.6L1967.0,599.4L1956.7,588.6ZM1985.2,539.9L1995.5,550.7L1985.2,561.5L1974.9,550.7ZM2007.6,490.8L2017.9,501.6L2007.6,512.4L1997.3,501.6ZM2033.8,430.7L2044.1,441.5L2033.8,452.3L2023.5,441.5ZM2067.6,356.6L2077.9,367.4L2067.6,378.2L2057.3,367.4ZM2106.6,267.1L2116.9,277.9L2106.6,288.7L2096.3,277.9Z"/><path fill="#800000" d="M1462.0,829.4L1472.1,836.7L1468.2,848.6L1455.8,848.6L1451.9,836.7ZM1468.5,826.8L1478.6,834.1L1474.7,846.0L1462.3,846.0L1458.4,834.1ZM1474.3,823.0L1484.4,830.4L1480.6,842.2L1468.1,842.2L1464.3,830.4ZM1478.2,817.2L1488.2,824.5L1484.4,836.4L1471.9,836.4L1468.1,824.5ZM1480.9,810.8L1491.0,818.1L1487.1,829.9L1474.6,829.9L1470.8,818.1ZM1482.7,804.0L1492.8,811.3L1488.9,823.2L1476.4,823.2L1472.6,811.3ZM1483.9,797.1L1493.9,804.4L1490.1,816.3L1477.6,816.3L1473.8,804.4ZM1484.0,781.5L1494.1,788.8L1490.2,800.7L1477.8,800.7L1473.9,788.8ZM1490.1,763.0L1500.2,770.3L1496.3,782.2L1483.9,782.2L1480.0,770.3ZM1496.3,743.5L1506.4,750.8L1502.5,762.7L1490.1,762.7L1486.2,750.8ZM1504.5,721.9L1514.6,729.2L1510.7,741.1L1498.3,741.1L1494.4,729.2ZM1511.7,695.1L1521.8,702.4L1517.9,714.3L1505.5,714.3L1501.6,702.4ZM1520.8,664.9L1530.9,672.2L1527.0,684.1L1514.6,684.1L1510.7,672.2ZM1531.8,628.7L1541.9,636.0L1538.0,647.9L1525.6,647.9L1521.7,636.0ZM1543.5,588.3L1553.6,595.6L1549.7,607.5L1537.3,607.5L1533.4,595.6ZM1559.7,540.2L1569.8,547.5L1565.9,559.4L1553.5,559.4L1549.6,547.5ZM1579.6,488.7L1589.7,496.0L1585.8,507.9L1573.4,507.9L1569.5,496.0ZM1604.8,435.0L1614.9,442.3L1611.0,454.2L1598.6,454.2L1594.7,442.3ZM1636.4,379.6L1646.5,386.9L1642.6,398.8L1630.2,398.8L1626.3,386.9ZM1675.0,333.7L1685.1,341.0L1681.2,352.9L1668.8,352.9L1664.9,341.0ZM1726.1,292.8L1736.2,300.1L1732.3,312.0L1719.9,312.0L1716.0,300.1ZM1773.8,280.3L1783.9,287.6L1780.0,299.5L1767.6,299.5L1763.7,287.6ZM1821.5,287.2L1831.6,294.5L1827.7,306.4L1815.3,306.4L1811.4,294.5ZM1865.8,314.6L1875.9,321.9L1872.0,333.8L1859.6,333.8L1855.7,321.9ZM1904.4,353.2L1914.5,360.5L1910.6,372.4L1898.2,372.4L1894.3,360.5ZM1936.1,399.6L1946.2,406.9L1942.3,418.8L1929.9,418.8L1926.0,406.9ZM1962.6,443.4L1972.7,450.7L1968.8,462.6L1956.4,462.6L1952.5,450.7ZM1983.4,486.6L1993.5,493.9L1989.6,505.8L1977.2,505.8L1973.3,493.9ZM2000.0,517.9L2010.1,525.2L2006.2,537.1L1993.8,537.1L1989.9,525.2ZM2014.0,554.9L2024.1,562.2L2020.2,574.1L2007.8,574.1L2003.9,562.2ZM2027.2,573.2L2037.3,580.5L2033.4,592.4L2021.0,592.4L2017.1,580.5ZM2038.8,586.5L2048.9,593.8L2045.0,605.7L2032.6,605.7L2028.7,593.8ZM2051.6,592.5L2061.7,599.8L2057.8,611.7L2045.4,611.7L2041.5,599.8ZM2064.3,588.4L2074.4,595.7L2070.5,607.6L2058.1,607.6L2054.2,595.7ZM2078.2,574.9L2088.3,582.2L2084.4,594.1L2072.0,594.1L2068.1,582.2ZM2093.6,556.2L2103.7,563.5L2099.8,575.4L2087.4,575.4L2083.5,563.5ZM2112.1,523.3L2122.2,530.6L2118.3,542.5L2105.9,542.5L2102.0,530.6ZM2132.3,479.9L2142.4,487.2L2138.5,499.1L2126.1,499.1L2122.2,487.2ZM2158.6,425.9L2168.7,433.2L2164.8,445.1L2152.4,445.1L2148.5,433.2ZM2189.9,356.7L2200.0,364.0L2196.1,375.9L2183.7,375.9L2179.8,364.0ZM2227.1,271.8L2237.2,279.1L2233.3,291.0L2220.9,291.0L2217.0,279.1ZM2273.1,165.7L2283.2,173.0L2279.3,184.9L2266.9,184.9L2263.0,173.0Z"/><path fill="#FF0080" d="M1452.7,855.2a8.9,8.9 0 1,0 17.8,0a8.9,8.9 0 1,0 -17.8,0ZM1455.0,849.7a8.9,8.9 0 1,0 17.8,0a8.9,8.9 0 1,0 -17.8,0ZM1457.3,844.1a8.9,8.9 0 1,0 17.8,0a8.9,8.9 0 1,0 -17.8,0ZM1459.8,838.7a8.9,8.9 0 1,0 17.8,0a8.9,8.9 0 1,0 -17.8,0ZM1462.4,833.2a8.9,8.9 0 1,0 17.8,0a8.9,8.9 0 1,0 -17.8,0ZM1465.0,827.8a8.9,8.9 0 1,0 17.8,0a8.9,8.9 0 1,0 -17.8,0ZM1467.8,822.5a8.9,8.9 0 1,0 17.8,0a8.9,8.9 0 1,0 -17.8,0ZM1470.7,817.3a8.9,8.9 0 1,0 17.8,0a8.9,8.9 0 1,0 -17.8,0ZM1473.8,812.1a8.9,8.9 0 1,0 17.8,0a8.9,8.9 0 1,0 -17.8,0ZM1476.9,807.0a8.9,8.9 0 1,0 17.8,0a8.9,8.9 0 1,0 -17.8,0ZM1480.0,801.9a8.9,8.9 0 1,0 17.8,0a8.9,8.9 0 1,0 -17.8,0ZM1483.2,796.8a8.9,8.9 0 1,0 17.8,0a8.9,8.9 0 1,0 -17.8,0ZM1486.4,791.7a8.9,8.9 0 1,0 17.8,0a8.9,8.9 0 1,0 -17.8,0ZM1489.8,786.8a8.9,8.9 0 1,0 17.8,0a8.9,8.9 0 1,0 -17.8,0ZM1493.3,781.9a8.9,8.9 0 1,0 17.8,0a8.9,8.9 0 1,0 -17.8,0ZM1497.0,777.2a8.9,8.9 0 1,0 17.8,0a8.9,8.9 0 1,0 -17.8,0ZM1500.8,772.5a8.9,8.9 0 1,0 17.8,0a8.9,8.9 0 1,0 -17.8,0ZM1504.7,768.0a8.9,8.9 0 1,0 17.8,0a8.9,8.9 0 1,0 -17.8,0ZM1508.9,763.7a8.9,8.9 0 1,0 17.8,0a8.9,8.9 0 1,0 -17.8,0ZM1513.3,759.6a8.9,8.9 0 1,0 17.8,0a8.9,8.9 0 1,0 -17.8,0ZM1518.0,755.9a8.9,8.9 0 1,0 17.8,0a8.9,8.9 0 1,0 -17.8,0ZM1523.0,752.5a8.9,8.9 0 1,0 17.8,0a8.9,8.9 0 1,0 -17.8,0ZM1528.2,749.6a8.9,8.9 0 1,0 17.8,0a8.9,8.9 0 1,0 -17.8,0ZM1533.8,747.4a8.9,8.9 0 1,0 17.8,0a8.9,8.9 0 1,0 -17.8,0ZM1539.7,746.5a8.9,8.9 0 1,0 17.8,0a8.9,8.9 0 1,0 -17.8,0ZM1545.6,747.3a8.9,8.9 0 1,0 17.8,0a8.9,8.9 0 1,0 -17.8,0ZM1551.3,749.2a8.9,8.9 0 1,0 17.8,0a8.9,8.9 0 1,0 -17.8,0ZM1556.8,751.7a8.9,8.9 0 1,0 17.8,0a8.9,8.9 0 1,0 -17.8,0ZM1561.9,754.9a8.9,8.9 0 1,0 17.8,0a8.9,8.9 0 1,0 -17.8,0ZM1566.6,758.6a8.9,8.9 0 1,0 17.8,0a8.9,8.9 0 1,0 -17.8,0ZM1570.9,762.8a8.9,8.9 0 1,0 17.8,0a8.9,8.9 0 1,0 -17.8,0ZM1574.9,767.2a8.9,8.9 0 1,0 17.8,0a8.9,8.9 0 1,0 -17.8,0ZM1578.7,771.8a8.9,8.9 0 1,0 17.8,0a8.9,8.9 0 1,0 -17.8,0ZM1582.5,776.5a8.9,8.9 0 1,0 17.8,0a8.9,8.9 0 1,0 -17.8,0ZM1586.3,781.1a8.9,8.9 0 1,0 17.8,0a8.9,8.9 0 1,0 -17.8,0ZM1589.9,785.9a8.9,8.9 0 1,0 17.8,0a8.9,8.9 0 1,0 -17.8,0ZM1593.5,790.8a8.9,8.9 0 1,0 17.8,0a8.9,8.9 0 1,0 -17.8,0ZM1597.0,795.6a8.9,8.9 0 1,0 17.8,0a8.9,8.9 0 1,0 -17.8,0ZM1600.6,800.4a8.9,8.9 0 1,0 17.8,0a8.9,8.9 0 1,0 -17.8,0ZM1604.4,805.0a8.9,8.9 0 1,0 17.8,0a8.9,8.9 0 1,0 -17.8,0ZM1608.3,809.6a8.9,8.9 0 1,0 17.8,0a8.9,8.9 0 1,0 -17.8,0ZM1612.3,814.0a8.9,8.9 0 1,0 17.8,0a8.9,8.9 0 1,0 -17.8,0ZM1617.1,817.6a8.9,8.9 0 1,0 17.8,0a8.9,8.9 0 1,0 -17.8,0ZM1622.9,817.8a8.9,8.9 0 1,0 17.8,0a8.9,8.9 0 1,0 -17.8,0ZM1627.6,814.1a8.9,8.9 0 1,0 17.8,0a8.9,8.9 0 1,0 -17.8,0ZM1631.4,809.5a8.9,8.9 0 1,0 17.8,0a8.9,8.9 0 1,0 -17.8,0ZM1634.6,804.4a8.9,8.9 0 1,0 17.8,0a8.9,8.9 0 1,0 -17.8,0ZM1637.6,799.2a8.9,8.9 0 1,0 17.8,0a8.9,8.9 0 1,0 -17.8,0ZM1640.4,793.9a8.9,8.9 0 1,0 17.8,0a8.9,8.9 0 1,0 -17.8,0ZM1643.2,788.6a8.9,8.9 0 1,0 17.8,0a8.9,8.9 0 1,0 -17.8,0ZM1646.0,783.3a8.9,8.9 0 1,0 17.8,0a8.9,8.9 0 1,0 -17.8,0ZM1648.8,778.0a8.9,8.9 0 1,0 17.8,0a8.9,8.9 0 1,0 -17.8,0ZM1651.5,772.6a8.9,8.9 0 1,0 17.8,0a8.9,8.9 0 1,0 -17.8,0ZM1654.0,767.2a8.9,8.9 0 1,0 17.8,0a8.9,8.9 0 1,0 -17.8,0ZM1656.3,761.7a8.9,8.9 0 1,0 17.8,0a8.9,8.9 0 1,0 -17.8,0ZM1658.1,755.9a8.9,8.9 0 1,0 17.8,0a8.9,8.9 0 1,0 -17.8,0ZM1665.6,727.0a8.9,8.9 0 1,0 17.8,0a8.9,8.9 0 1,0 -17.8,0ZM1674.7,708.0a8.9,8.9 0 1,0 17.8,0a8.9,8.9 0 1,0 -17.8,0ZM1684.4,685.3a8.9,8.9 0 1,0 17.8,0a8.9,8.9 0 1,0 -17.8,0ZM1697.5,655.4a8.9,8.9 0 1,0 17.8,0a8.9,8.9 0 1,0 -17.8,0ZM1711.5,620.8a8.9,8.9 0 1,0 17.8,0a8.9,8.9 0 1,0 -17.8,0ZM1731.2,578.7a8.9,8.9 0 1,0 17.8,0a8.9,8.9 0 1,0 -17.8,0ZM1751.9,529.6a8.9,8.9 0 1,0 17.8,0a8.9,8.9 0 1,0 -17.8,0ZM1778.1,468.1a8.9,8.9 0 1,0 17.8,0a8.9,8.9 0 1,0 -17.8,0ZM1809.9,392.2a8.9,8.9 0 1,0 17.8,0a8.9,8.9 0 1,0 -17.8,0ZM1849.2,297.3a8.9,8.9 0 1,0 17.8,0a8.9,8.9 0 1,0 -17.8,0ZM1897.6,184.6a8.9,8.9 0 1,0 17.8,0a8.9,8.9 0 1,0 -17.8,0Z"/></g>
<text transform="translate(1525.52,900.00) scale(1.0000,1)" font-size="73" class="th">a</text>
<text transform="translate(1568.44,889.50) scale(1.0000,1)" font-size="73" class="th">e</text>
<text transform="translate(1594.92,881.00) scale(1.0000,1)" font-size="73" class="th">f</text>
<text transform="translate(1629.94,863.00) scale(1.0000,1)" font-size="73" class="th">b</text>
<text transform="translate(1656.58,828.00) scale(1.0000,1)" font-size="73" class="th">d</text>
<text transform="translate(1717.53,838.00) scale(1.0000,1)" font-size="73" class="th">c</text>
<text transform="translate(1816.88,752.00) scale(1.0000,1)" font-size="73" class="th">g</text>
<text transform="translate(1913.17,730.50) scale(1.0000,1)" font-size="73" class="th">h</text>
<text transform="translate(2077.39,657.00) scale(1.0000,1)" font-size="73" class="th">i</text></svg></body></html>
